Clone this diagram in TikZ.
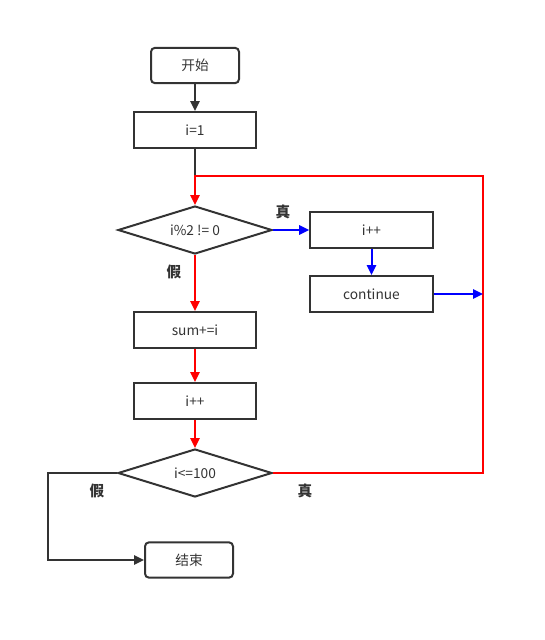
\documentclass[tikz,border=0pt]{standalone}
\usepackage{fontspec}
\setmainfont{Noto Sans CJK SC}
\usepackage{xcolor}
\usetikzlibrary{shapes.geometric,arrows.meta}
\definecolor{ink}{HTML}{333333}

\begin{document}
\begin{tikzpicture}[x=0.75pt,y=-0.75pt,line width=1.5pt,
  every node/.style={text=ink,font=\fontsize{10.3}{12}\selectfont},
  terminal/.style={draw=ink,rounded corners=3pt,minimum width=66pt,minimum height=26.5pt},
  process/.style={draw=ink,minimum width=92pt,minimum height=27pt},
  decision/.style={draw=ink,diamond,aspect=3.2,minimum width=115.5pt,minimum height=36pt,inner sep=0pt},
  tag/.style={font=\fontsize{11}{13}\selectfont\bfseries},
  flow/.style={-{Triangle[length=7.5pt,width=7pt]}}]
  \useasboundingbox (0,0) rectangle (545,640);
  \node[terminal] (start) at (195,65.5) {开始};
  \node[process] (init) at (195,130) {i=1};
  \node[decision] (odd) at (195,230) {i\%2 != 0};
  \node[process] (skipinc) at (371.5,230) {i++};
  \node[process] (cont) at (371.5,294) {continue};
  \node[process] (sum) at (195,330) {sum+=i};
  \node[process] (inc) at (195,401) {i++};
  \node[decision] (test) at (195,473) {i<=100};
  \node[terminal] (stop) at (189,560) {结束};
  \node[tag] (yes1) at (283,212) {真};
  \node[tag] (no1) at (174,272) {假};
  \node[tag] (no2) at (97,491) {假};
  \node[tag] (yes2) at (305,491) {真};
  \coordinate (loopl) at (195,176);
  \coordinate (loopr) at (483,176);
  \coordinate (exitl) at (48,473);
  \draw[ink,flow] (start) -- (init);
  \draw[ink] (init) -- (loopl);
  \draw[red,flow] (test.east) -| (loopr) -- (loopl) -- (odd.north);
  \draw[blue,flow] (odd.east) -- (skipinc.west);
  \draw[blue,flow] (skipinc) -- (cont);
  \draw[blue,flow] (cont.east) -- (cont.east -| loopr);
  \draw[red,flow] (odd.south) -- (sum.north);
  \draw[red,flow] (sum) -- (inc);
  \draw[red,flow] (inc) -- (test.north);
  \draw[ink,flow] (test.west) -- (exitl) |- (stop.west);
\end{tikzpicture}
\end{document}
